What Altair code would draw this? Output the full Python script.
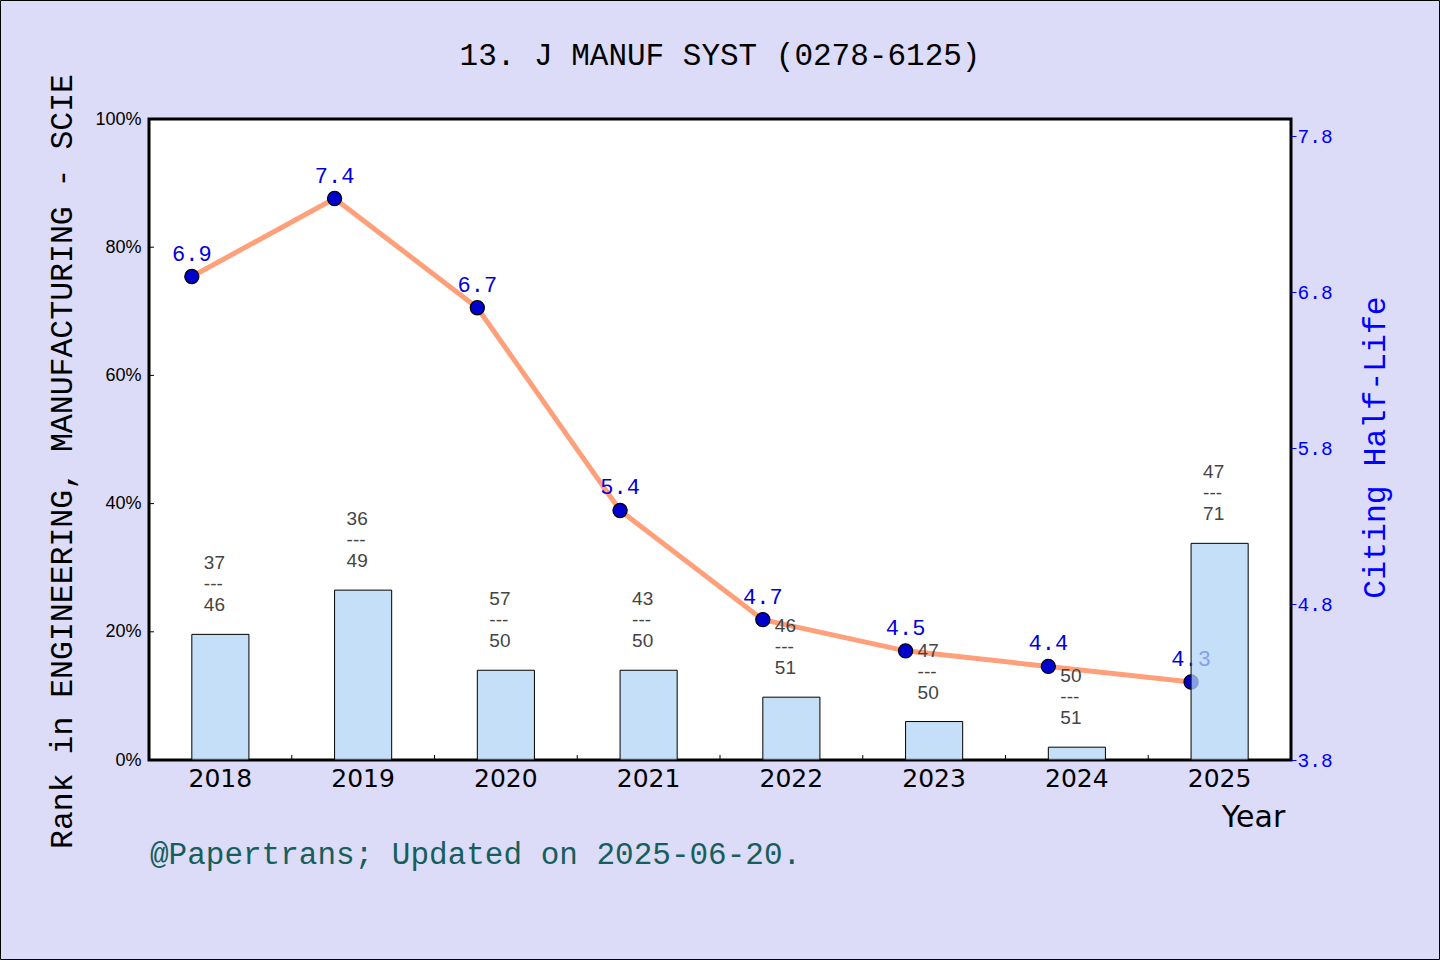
import altair as alt
import pandas as pd

# ---- data ----
years = ["2018", "2019", "2020", "2021", "2022", "2023", "2024", "2025"]
rank_pct = [19.6, 26.5, 14.0, 14.0, 9.8, 6.0, 2.0, 33.8]
ranks = [37, 36, 57, 43, 46, 47, 50, 47]
totals = [46, 49, 50, 50, 51, 50, 51, 71]
half_life = [6.9, 7.4, 6.7, 5.4, 4.7, 4.5, 4.4, 4.3]

pct_ticks = [0, 20, 40, 60, 80, 100]
hl_ticks = [3.8, 4.8, 5.8, 6.8, 7.8]

title_text = "13. J MANUF SYST (0278-6125)"
footer_text = "@Papertrans; Updated on 2025-06-20."
left_title = "Rank in ENGINEERING, MANUFACTURING - SCIE"
right_title = "Citing Half-Life"

W, H = 1142, 641
PAD_L, PAD_T, PAD_R, PAD_B = 149, 119, 149, 200

df = pd.DataFrame({
    "year": years,
    "pct": rank_pct,
    "label": [f"{r}\n---\n{t}" for r, t in zip(ranks, totals)],
    "hl": half_life,
})
tick_df = pd.DataFrame({"p": pct_ticks})

MONO = "Liberation Mono"
SANS = "DejaVu Sans"

xscale = alt.Scale(paddingInner=0, paddingOuter=0)
x_axis = alt.Axis(
    labelAngle=0, ticks=False, domain=False, grid=False,
    labelFont=SANS, labelFontSize=25, labelColor="black", labelPadding=6,
    title="Year", titleFont=SANS, titleFontSize=30, titleFontWeight="normal",
    titleColor="black", titleX=1104, titleY=57, titleAlign="center",
    titleBaseline="middle",
)

hl_scale = alt.Scale(domain=[3.8, 7.91], nice=False, zero=False)
hl_axis = alt.Axis(
    orient="right", values=hl_ticks, format=".1f", grid=False, domain=False,
    tickColor="#0000FF", tickSize=5, tickWidth=1,
    labelColor="#0000FF", labelFont=MONO, labelFontSize=19.5, labelPadding=1,
    title=right_title, titleColor="#0000FF", titleFont=MONO, titleFontSize=31.5,
    titleFontWeight="normal", titleAngle=270, titleX=84, titleY=328,
    titleAlign="center", titleBaseline="middle",
)

base = alt.Chart(df)

line = base.mark_line(color="#FFA07A", strokeWidth=5).encode(
    x=alt.X("year:O", scale=xscale, axis=x_axis, bandPosition=0.3),
    y=alt.Y("hl:Q", scale=hl_scale, axis=hl_axis),
)
points = base.mark_circle(size=200, color="#0000CD", stroke="black",
                          strokeWidth=1.2, opacity=1).encode(
    x=alt.X("year:O", bandPosition=0.3),
    y=alt.Y("hl:Q"),
)
pt_labels = base.mark_text(font=MONO, fontSize=22, color="#0000DD",
                           baseline="alphabetic", align="center", dy=-16).encode(
    x=alt.X("year:O", bandPosition=0.3),
    y=alt.Y("hl:Q"),
    text=alt.Text("hl:Q", format=".1f"),
)
line_group = alt.layer(line, points, pt_labels)

pct_axis = alt.Axis(
    orient="left", values=pct_ticks, labelExpr="datum.value + '%'",
    grid=False, domain=False, ticks=False,
    labelFont="Liberation Sans", labelFontSize=18, labelColor="black",
    labelPadding=8,
    title=left_title, titleFont=MONO, titleFontSize=31.5, titleFontWeight="normal",
    titleColor="black", titleAngle=270, titleX=-87, titleY=342,
    titleAlign="center", titleBaseline="middle",
)
pct_scale = alt.Scale(domain=[0, 100], nice=False)

bars = base.mark_bar(width={"band": 0.4}, color="#B0D4F4", fillOpacity=0.75,
                     stroke="black", strokeWidth=1).encode(
    x=alt.X("year:O"),
    y=alt.Y("pct:Q", scale=pct_scale, axis=pct_axis),
)
bar_text = base.mark_text(font="Liberation Sans", fontSize=19, color="#444444",
                          align="left", baseline="alphabetic", lineBreak="\n",
                          lineHeight=21, dx=12, dy=-65).encode(
    x=alt.X("year:O", bandPosition=0.3),
    y=alt.Y("pct:Q"),
    text="label:N",
)
left_ticks = alt.Chart(tick_df).mark_rule(color="black", strokeWidth=1).encode(
    y=alt.Y("p:Q"),
    x=alt.value(0),
    x2=alt.value(5),
)
bottom_ticks = base.mark_rule(color="black", strokeWidth=1).encode(
    x=alt.X("year:O", bandPosition=0),
    y=alt.value(H - 5),
    y2=alt.value(H),
)
bar_group = alt.layer(bars, bar_text, left_ticks, bottom_ticks)

title_mark = alt.Chart(pd.DataFrame({"t": [title_text]})).mark_text(
    font=MONO, fontSize=31, color="black", align="center", baseline="middle"
).encode(x=alt.value(W / 2), y=alt.value(-63), text="t:N")

footer_mark = alt.Chart(pd.DataFrame({"t": [footer_text]})).mark_text(
    font=MONO, fontSize=31, color="#175E5C", align="left", baseline="middle"
).encode(x=alt.value(1), y=alt.value(736), text="t:N")

border = alt.Chart(pd.DataFrame({"t": [0]})).mark_rect(
    fillOpacity=0, stroke="black", strokeWidth=1
).encode(
    x=alt.value(-PAD_L + 0.5), x2=alt.value(W + PAD_R - 0.5),
    y=alt.value(-PAD_T + 0.5), y2=alt.value(H + PAD_B - 0.5),
)

chart = alt.layer(line_group, bar_group, title_mark, footer_mark, border).resolve_scale(
    y="independent"
).properties(
    width=W, height=H,
    background="#DCDBF8",
    padding={"left": PAD_L, "top": PAD_T, "right": PAD_R, "bottom": PAD_B},
    autosize=alt.AutoSizeParams(type="none"),
).configure_view(
    stroke="black", strokeWidth=3, fill="white"
)

chart.save("out.html", embed_options={"renderer": "svg", "actions": False})
